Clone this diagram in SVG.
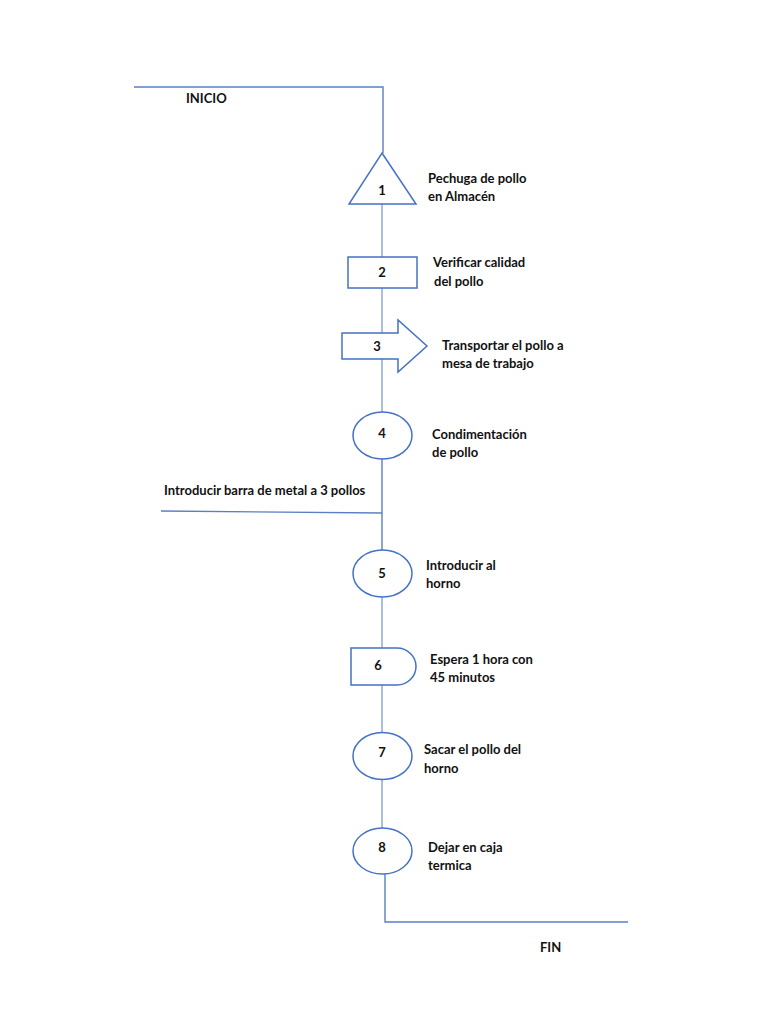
<svg xmlns="http://www.w3.org/2000/svg" width="768" height="1024" viewBox="0 0 768 1024">
<style>
.shape{fill:#fff;stroke:#4472C4;stroke-width:1.5}
.con{fill:none;stroke:#8FAADC;stroke-width:1.5}
.con2{fill:none;stroke:#5B7FC4;stroke-width:1.4}
text{font-family:Lato,"Liberation Sans",sans-serif;font-weight:bold;font-size:13px;fill:#111}
.n{text-anchor:middle}
</style>
<rect width="768" height="1024" fill="#fff"/>
<g id="connectors">
<path class="con2" d="M134,87 H383 V153"/>
<path class="con" d="M382,204 V257"/>
<path class="con" d="M382,288 V333"/>
<path class="con" d="M382,359 V412"/>
<path class="con2" d="M382,459 V550"/>
<path class="con2" d="M161,511 L382,513"/>
<path class="con" d="M382,597 V648"/>
<path class="con" d="M382,685 V733"/>
<path class="con" d="M382,779 V828"/>
<path class="con2" d="M385,874 V922 H628"/>
</g>
<g id="inicio"><text x="186" y="103">INICIO</text></g>
<g id="n1">
<polygon class="shape" points="382,153 416,204 349,204"/>
<text class="n" x="382" y="195">1</text>
<text x="428" y="183">Pechuga de pollo</text>
<text x="428" y="201">en Almacén</text>
</g>
<g id="n2">
<rect class="shape" x="348" y="257" width="69" height="31"/>
<text class="n" x="382" y="277">2</text>
<text x="433" y="267">Verificar calidad</text>
<text x="434" y="286">del pollo</text>
</g>
<g id="n3">
<polygon class="shape" points="342,333 398,333 398,320 427,346 398,372 398,359 342,359"/>
<text class="n" x="377" y="351">3</text>
<text x="442" y="350">Transportar el pollo a</text>
<text x="442" y="368">mesa de trabajo</text>
</g>
<g id="n4">
<ellipse class="shape" cx="382.5" cy="435.5" rx="29.5" ry="23.5"/>
<text class="n" x="382" y="438">4</text>
<text x="432" y="439">Condimentación</text>
<text x="432" y="457">de pollo</text>
</g>
<g id="barra"><text x="164" y="495">Introducir barra de metal a 3 pollos</text></g>
<g id="n5">
<ellipse class="shape" cx="382.5" cy="573.5" rx="29.5" ry="23.5"/>
<text class="n" x="382" y="578">5</text>
<text x="426" y="570">Introducir al</text>
<text x="426" y="588">horno</text>
</g>
<g id="n6">
<path class="shape" d="M351,648 H397 A19,18.5 0 0 1 397,685 H351 Z"/>
<text class="n" x="378" y="670">6</text>
<text x="430" y="664">Espera 1 hora con</text>
<text x="430" y="682">45 minutos</text>
</g>
<g id="n7">
<ellipse class="shape" cx="382.5" cy="756" rx="29.5" ry="23.5"/>
<text class="n" x="382" y="757">7</text>
<text x="424" y="754">Sacar el pollo del</text>
<text x="424" y="773">horno</text>
</g>
<g id="n8">
<ellipse class="shape" cx="382.5" cy="851" rx="29.5" ry="23"/>
<text class="n" x="382" y="852">8</text>
<text x="428" y="852">Dejar en caja</text>
<text x="428" y="870">termica</text>
</g>
<g id="fin"><text x="540" y="952">FIN</text></g>
</svg>
